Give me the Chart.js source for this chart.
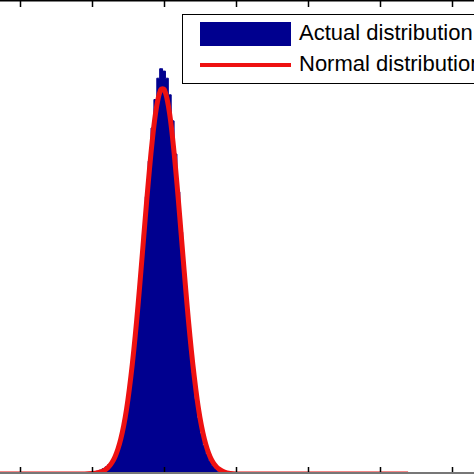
<!DOCTYPE html>
<html>
<head>
<meta charset="utf-8">
<script src="https://cdn.jsdelivr.net/npm/chart.js@4"></script>
<style>
  html, body { margin: 0; padding: 0; background: #fff; overflow: hidden; }
  #wrap { position: relative; width: 474px; height: 474px; overflow: hidden; }
  #legend {
    position: absolute; left: 182px; top: 14px; width: 340px; height: 68px;
    border: 1.5px solid #000; background: #fff;
    font-family: "Liberation Sans", Arial, sans-serif; font-size: 22px; color: #000;
  }
  .patch { position: absolute; left: 17px; width: 91px; height: 24px; background: #00008f; }
  .redline { position: absolute; left: 17px; width: 91px; height: 4px; background: #ee1111; }
  .lbl { position: absolute; left: 116px; white-space: nowrap; }
</style>
</head>
<body>
<div id="wrap">
  <canvas id="c" width="474" height="474"></canvas>
  <div id="legend">
    <div class="patch" style="top:7px"></div><div class="lbl" style="top:5px">Actual distribution</div>
    <div class="redline" style="top:48px"></div><div class="lbl" style="top:36px">Normal distribution</div>
  </div>
</div>
<script>
const binX = [1.00, 1.04, 1.08, 1.12, 1.16, 1.20, 1.24, 1.28, 1.32, 1.36, 1.40, 1.44, 1.48, 1.52, 1.56,
  1.60, 1.64, 1.68, 1.72, 1.76, 1.80, 1.84, 1.88, 1.92, 1.96, 2.00, 2.04, 2.08, 2.12, 2.16,
  2.20, 2.24, 2.28, 2.32, 2.36, 2.40, 2.44, 2.48, 2.52, 2.56, 2.60, 2.64, 2.68, 2.72, 2.76, 2.80, 2.84];
const actualValues = [0.002, 0.004, 0.006, 0.008, 0.011, 0.015, 0.020, 0.027, 0.036, 0.050, 0.070, 0.097, 0.130, 0.172, 0.222,
  0.282, 0.350, 0.425, 0.505, 0.585, 0.660, 0.730, 0.790, 0.835, 0.855, 0.850, 0.835, 0.800, 0.745, 0.675,
  0.595, 0.510, 0.425, 0.345, 0.275, 0.213, 0.160, 0.118, 0.085, 0.060, 0.042, 0.028, 0.018, 0.011, 0.006, 0.003, 0];
const normalX = [-0.3, 0.9, 1.0, 1.08, 1.16, 1.20, 1.24, 1.28, 1.32, 1.36, 1.40, 1.44, 1.48, 1.52, 1.56,
  1.60, 1.64, 1.68, 1.72, 1.76, 1.80, 1.84, 1.88, 1.92, 1.96, 2.00, 2.04, 2.08, 2.12, 2.16,
  2.20, 2.24, 2.28, 2.32, 2.36, 2.40, 2.44, 2.48, 2.52, 2.56, 2.60, 2.64, 2.68, 2.72, 2.76, 2.84, 2.92, 3.0, 5.39];
const normalValues = [0, 0, 0.001, 0.003, 0.007, 0.0107, 0.0165, 0.0248, 0.0366, 0.0528, 0.0743, 0.102, 0.137, 0.181, 0.232,
  0.291, 0.357, 0.429, 0.503, 0.577, 0.646, 0.708, 0.758, 0.793, 0.812, 0.812, 0.793, 0.758, 0.708, 0.646,
  0.577, 0.503, 0.429, 0.357, 0.291, 0.232, 0.181, 0.137, 0.102, 0.0743, 0.0528, 0.0366, 0.0248, 0.0165, 0.0107, 0.004, 0.001, 0, 0];
const xTicks = [0, 1, 2, 3, 4, 5, 6];

const frame = {
  id: 'frame',
  afterDatasetsDraw(chart) {
    const { ctx, chartArea: a, scales: { x } } = chart;
    ctx.save();
    ctx.strokeStyle = '#000';
    ctx.lineWidth = 1.5;
    ctx.beginPath();
    ctx.moveTo(a.left, a.top + 0.75); ctx.lineTo(a.right, a.top + 0.75);
    xTicks.forEach((t) => {
      const px = Math.round(x.getPixelForValue(t)) + 0.5;
      ctx.moveTo(px, a.top); ctx.lineTo(px, a.top + 7);
      ctx.moveTo(px, a.bottom); ctx.lineTo(px, a.bottom - 7);
    });
    ctx.stroke();
    ctx.strokeStyle = '#777';
    ctx.lineWidth = 2;
    ctx.beginPath();
    ctx.moveTo(a.left, a.bottom - 1); ctx.lineTo(a.right, a.bottom - 1);
    ctx.stroke();
    ctx.restore();
  }
};

new Chart(document.getElementById('c'), {
  type: 'line',
  data: {
    datasets: [
      {
        label: 'Normal distribution',
        data: normalX.map((v, i) => ({ x: v, y: normalValues[i] })),
        borderColor: '#ee1111',
        borderWidth: 5,
        pointRadius: 0,
        tension: 0.3,
        fill: false,
        order: 0
      },
      {
        label: 'Actual distribution',
        data: binX.map((v, i) => ({ x: v, y: actualValues[i] })),
        borderColor: '#00008f',
        backgroundColor: '#00008f',
        borderWidth: 1,
        pointRadius: 0,
        stepped: 'middle',
        fill: 'origin',
        order: 1
      }
    ]
  },
  options: {
    responsive: false,
    animation: false,
    layout: { padding: 0 },
    plugins: { legend: { display: false }, tooltip: { enabled: false } },
    scales: {
      x: { type: 'linear', display: false, min: -20 / 72, max: 6 + 22 / 72 },
      y: { display: false, min: 0, max: 1 }
    }
  },
  plugins: [frame]
});
</script>
</body>
</html>
